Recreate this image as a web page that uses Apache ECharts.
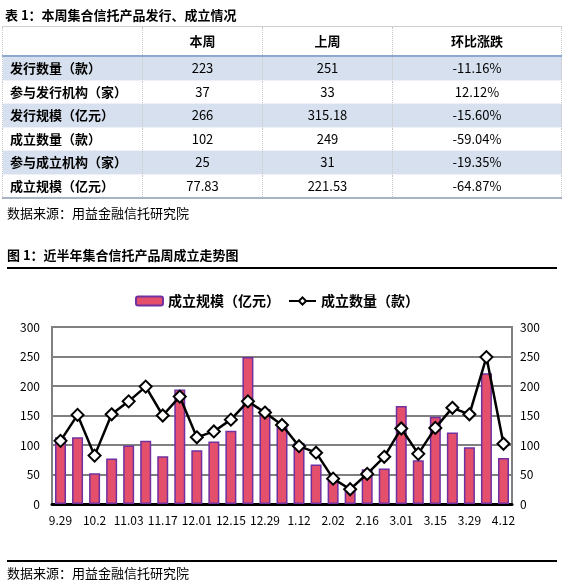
<!DOCTYPE html>
<html>
<head>
<meta charset="utf-8">
<script src="https://cdn.jsdelivr.net/npm/echarts@6/dist/echarts.min.js"></script>
<style>
  html, body { margin:0; padding:0; background:#fff; }
  body { width:563px; height:587px; position:relative; overflow:hidden;
         font-family:"Noto Sans CJK SC","DejaVu Sans",sans-serif; color:#000; }
  .abs { position:absolute; }
  .ttl { font-size:13px; font-weight:bold; white-space:nowrap; }
  .src { font-size:13px; white-space:nowrap; }
  table { border-collapse:collapse; table-layout:fixed; font-size:13px; }
  td { padding:0; text-align:center; border-left:1px dotted #c8c8c8; border-right:1px dotted #c8c8c8; line-height:16px; }
  tr.hd td { height:28px; font-weight:bold; border-top:1px solid #d0d0d0; border-bottom:2px solid #8ea9cf; }
  tr.rw td { height:22.5px; border-bottom:1px solid #eef2f8; }
  tr.sh td { background:#d6e0ee; }
  td.nm { text-align:left; padding-left:7px; font-weight:bold; }
  tr.last td { border-bottom:2px solid #a8b4c4; }
  #chart { position:absolute; left:0; top:0; width:563px; height:587px; }
</style>
</head>
<body>
<div id="chart"></div>
<div class="abs ttl" style="left:5px;top:5px;">表 1：本周集合信托产品发行、成立情况</div>
<table id="tbl" class="abs" style="left:2px;top:26px;width:559px;">
  <colgroup><col style="width:140px"><col style="width:120px"><col style="width:130px"><col style="width:169px"></colgroup>
</table>
<div class="abs src" style="left:7px;top:203px;">数据来源：用益金融信托研究院</div>
<div class="abs ttl" style="left:7px;top:245px;">图 1：近半年集合信托产品周成立走势图</div>
<div class="abs" style="left:7px;top:267px;width:550px;height:2px;background:#000;"></div>
<div class="abs" style="left:7px;top:560px;width:550px;height:2px;background:#000;"></div>
<div class="abs src" style="left:7px;top:563px;">数据来源：用益金融信托研究院</div>
<script>
// ---- table data ----
var tableHeaders = ['', '本周', '上周', '环比涨跌'];
var tableRowNames = ['发行数量（款）', '参与发行机构（家）', '发行规模（亿元）', '成立数量（款）', '参与成立机构（家）', '成立规模（亿元）'];
var thisWeek = ['223', '37', '266', '102', '25', '77.83'];
var lastWeek = ['251', '33', '315.18', '249', '31', '221.53'];
var changePct = ['-11.16%', '12.12%', '-15.60%', '-59.04%', '-19.35%', '-64.87%'];

// ---- chart data ----
var weeks = ['9.29','10.13','10.2','10.27','11.03','11.10','11.17','11.24','12.01','12.08','12.15','12.22','12.29','1.05',
             '1.12','1.19','2.02','2.09','2.16','2.23','3.01','3.08','3.15','3.22','3.29','4.05','4.12'];
var scaleValues = [113,113,52,77,99,107,81,194,91,106,124,249,161,130,
                   104,67,40,22,59,60,166,74,148,121,96,221.53,77.83];
var countValues = [107,151,82,152,174,199,150,182,113,123,143,174,155,134,
                   98,87,43,25,51,80,128,85,129,163,152,249,102];
var yTicks = [0,50,100,150,200,250,300];

// build table
(function(){
  var t = document.getElementById('tbl');
  var h = '<tr class="hd">';
  tableHeaders.forEach(function(x){ h += '<td>' + x + '</td>'; });
  h += '</tr>';
  for (var i = 0; i < tableRowNames.length; i++) {
    var cls = 'rw' + (i % 2 === 0 ? ' sh' : '') + (i === tableRowNames.length - 1 ? ' last' : '');
    h += '<tr class="' + cls + '"><td class="nm">' + tableRowNames[i] + '</td><td>' + thisWeek[i] +
         '</td><td>' + lastWeek[i] + '</td><td>' + changePct[i] + '</td></tr>';
  }
  t.insertAdjacentHTML('beforeend', h);
})();

var chart = echarts.init(document.getElementById('chart'), null, {renderer:'canvas'});
var axisFont = {color:'#000', fontSize:12, fontFamily:'"Noto Sans CJK SC","DejaVu Sans",sans-serif'};
chart.setOption({
  animation:false,
  backgroundColor:'transparent',
  legend:{
    top:289, left:130,
    itemWidth:27, itemHeight:9, itemGap:8,
    textStyle:{color:'#000', fontSize:14, fontWeight:'bold', fontFamily:'"Noto Sans CJK SC",sans-serif'},
    data:['成立规模（亿元）','成立数量（款）']
  },
  grid:{left:52, right:51, top:327, bottom:83, show:true, borderColor:'#808080', borderWidth:2},
  xAxis:{
    type:'category', data:weeks,
    axisLine:{lineStyle:{color:'#000', width:3}},
    axisTick:{show:false},
    axisLabel:Object.assign({interval:1, margin:10}, axisFont)
  },
  yAxis:[
    {type:'value', min:yTicks[0], max:yTicks[yTicks.length-1], interval:50,
     axisLine:{show:false}, axisTick:{show:false},
     splitLine:{lineStyle:{color:'#808080', width:2}},
     axisLabel:Object.assign({margin:12}, axisFont)},
    {type:'value', min:yTicks[0], max:yTicks[yTicks.length-1], interval:50,
     axisLine:{show:false}, axisTick:{show:false}, splitLine:{show:false},
     axisLabel:Object.assign({margin:8}, axisFont)}
  ],
  series:[
    {name:'成立规模（亿元）', type:'bar', data:scaleValues, barWidth:11,
     itemStyle:{color:'#e4506c', borderColor:'#7030a0', borderWidth:1.5}},
    {name:'成立数量（款）', type:'line', yAxisIndex:1, data:countValues,
     symbol:'diamond', symbolSize:12, showAllSymbol:true,
     lineStyle:{color:'#000', width:2.5},
     itemStyle:{color:'#fff', borderColor:'#000', borderWidth:2}}
  ]
});
</script>
</body>
</html>
